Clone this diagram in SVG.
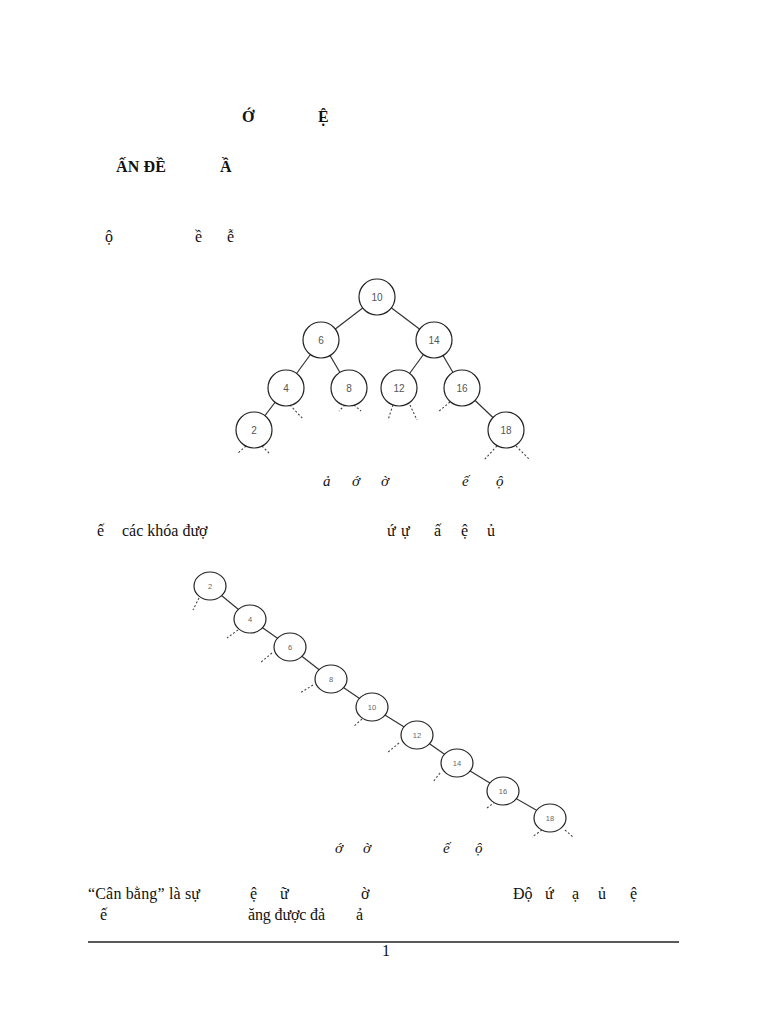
<svg xmlns="http://www.w3.org/2000/svg" width="768" height="1024" viewBox="0 0 768 1024">
<style>
.t{font-family:"Liberation Serif","Times New Roman",serif;fill:#111;font-size:16px}
.b{font-weight:bold}
.i{font-style:italic;font-size:15px}
.e{stroke:#333;stroke-width:1.2;fill:none}
.d{stroke:#444;stroke-width:1.1;stroke-dasharray:2 2;fill:none}
.n{fill:#fff;stroke:#222;stroke-width:1.2}
.l{font-family:"Liberation Sans",Arial,sans-serif;font-size:10px;fill:#555;text-anchor:middle}
.l2{font-family:"Liberation Sans",Arial,sans-serif;font-size:7.5px;fill:#666;text-anchor:middle}
</style>
<rect width="768" height="1024" fill="#fff"/>
<text class="t b" x="242" y="122" font-size="21">Ớ</text>
<text class="t b" x="318" y="122" font-size="21">Ệ</text>
<text class="t b" x="116" y="172" font-size="14" textLength="50">ẤN ĐỀ</text>
<text class="t b" x="220" y="172" font-size="14">Ầ</text>
<text class="t" x="105" y="242">ộ</text>
<text class="t" x="195" y="242">ề</text>
<text class="t" x="227" y="242">ễ</text>
<g id="connectors1">
<line class="e" x1="377" y1="297" x2="321" y2="340"/>
<line class="e" x1="377" y1="297" x2="434" y2="340"/>
<line class="e" x1="321" y1="340" x2="286" y2="388"/>
<line class="e" x1="321" y1="340" x2="349" y2="388"/>
<line class="e" x1="434" y1="340" x2="399" y2="388"/>
<line class="e" x1="434" y1="340" x2="462" y2="388"/>
<line class="e" x1="286" y1="388" x2="254" y2="430"/>
<line class="e" x1="462" y1="388" x2="506" y2="430"/>
<line class="d" x1="290" y1="405" x2="303" y2="419"/>
<line class="d" x1="246" y1="446" x2="238" y2="453"/>
<line class="d" x1="262" y1="446" x2="269" y2="453"/>
<line class="d" x1="345" y1="405" x2="339" y2="411"/>
<line class="d" x1="354" y1="405" x2="361" y2="411"/>
<line class="d" x1="393" y1="405" x2="388" y2="420"/>
<line class="d" x1="410" y1="405" x2="417" y2="420"/>
<line class="d" x1="450" y1="402" x2="438" y2="412"/>
<line class="d" x1="497" y1="446" x2="484" y2="460"/>
<line class="d" x1="516" y1="446" x2="530" y2="460"/>
</g>
<g id="n10"><circle class="n" cx="377" cy="297" r="18"/><text class="l" x="377" y="301">10</text></g>
<g id="n6"><circle class="n" cx="321" cy="340" r="18"/><text class="l" x="321" y="344">6</text></g>
<g id="n14"><circle class="n" cx="434" cy="340" r="18"/><text class="l" x="434" y="344">14</text></g>
<g id="n4"><circle class="n" cx="286" cy="388" r="18"/><text class="l" x="286" y="392">4</text></g>
<g id="n8"><circle class="n" cx="349" cy="388" r="18"/><text class="l" x="349" y="392">8</text></g>
<g id="n12"><circle class="n" cx="399" cy="388" r="18"/><text class="l" x="399" y="392">12</text></g>
<g id="n16"><circle class="n" cx="462" cy="388" r="18"/><text class="l" x="462" y="392">16</text></g>
<g id="n2"><circle class="n" cx="254" cy="430" r="18"/><text class="l" x="254" y="434">2</text></g>
<g id="n18"><circle class="n" cx="506" cy="430" r="18"/><text class="l" x="506" y="434">18</text></g>
<text class="t i" x="323" y="486">ả</text>
<text class="t i" x="352" y="486">ớ</text>
<text class="t i" x="381" y="486">ờ</text>
<text class="t i" x="462" y="486">ế</text>
<text class="t i" x="496" y="486">ộ</text>
<text class="t" x="97" y="536">ế</text>
<text class="t" x="122" y="536">các khóa đượ</text>
<text class="t" x="387" y="536">ứ</text>
<text class="t" x="401" y="536">ự</text>
<text class="t" x="434" y="536">ấ</text>
<text class="t" x="461" y="536">ệ</text>
<text class="t" x="487" y="536">ủ</text>
<g id="connectors2">
<line class="e" x1="210" y1="586" x2="250" y2="619"/>
<line class="e" x1="250" y1="619" x2="290" y2="647"/>
<line class="e" x1="290" y1="647" x2="331" y2="679"/>
<line class="e" x1="331" y1="679" x2="372" y2="707"/>
<line class="e" x1="372" y1="707" x2="417" y2="735"/>
<line class="e" x1="417" y1="735" x2="457" y2="763"/>
<line class="e" x1="457" y1="763" x2="503" y2="791"/>
<line class="e" x1="503" y1="791" x2="550" y2="818"/>
<line class="d" x1="199" y1="598" x2="193" y2="610"/>
<line class="d" x1="238" y1="630" x2="227" y2="638"/>
<line class="d" x1="272" y1="653" x2="260" y2="663"/>
<line class="d" x1="313" y1="685" x2="300" y2="693"/>
<line class="d" x1="362" y1="719" x2="353" y2="727"/>
<line class="d" x1="399" y1="743" x2="387" y2="753"/>
<line class="d" x1="440" y1="773" x2="433" y2="782"/>
<line class="d" x1="495" y1="802" x2="487" y2="808"/>
<line class="d" x1="542" y1="830" x2="532" y2="837"/>
<line class="d" x1="565" y1="830" x2="573" y2="837"/>
</g>
<g id="m2"><ellipse class="n" cx="210" cy="586" rx="16" ry="14"/><text class="l2" x="210" y="589">2</text></g>
<g id="m4"><ellipse class="n" cx="250" cy="619" rx="16" ry="14"/><text class="l2" x="250" y="622">4</text></g>
<g id="m6"><ellipse class="n" cx="290" cy="647" rx="16" ry="14"/><text class="l2" x="290" y="650">6</text></g>
<g id="m8"><ellipse class="n" cx="331" cy="679" rx="16" ry="14"/><text class="l2" x="331" y="682">8</text></g>
<g id="m10"><ellipse class="n" cx="372" cy="707" rx="16" ry="14"/><text class="l2" x="372" y="710">10</text></g>
<g id="m12"><ellipse class="n" cx="417" cy="735" rx="16" ry="14"/><text class="l2" x="417" y="738">12</text></g>
<g id="m14"><ellipse class="n" cx="457" cy="763" rx="16" ry="14"/><text class="l2" x="457" y="766">14</text></g>
<g id="m16"><ellipse class="n" cx="503" cy="791" rx="16" ry="14"/><text class="l2" x="503" y="794">16</text></g>
<g id="m18"><ellipse class="n" cx="550" cy="818" rx="16" ry="14"/><text class="l2" x="550" y="821">18</text></g>
<text class="t i" x="335" y="853">ớ</text>
<text class="t i" x="363" y="853">ờ</text>
<text class="t i" x="443" y="853">ế</text>
<text class="t i" x="475" y="853">ộ</text>
<text class="t" x="88" y="899" textLength="112">“Cân bằng” là sự</text>
<text class="t" x="250" y="899">ệ</text>
<text class="t" x="280" y="899">ữ</text>
<text class="t" x="361" y="899">ờ</text>
<text class="t" x="513" y="899">Độ</text>
<text class="t" x="545" y="899">ứ</text>
<text class="t" x="572" y="899">ạ</text>
<text class="t" x="598" y="899">ủ</text>
<text class="t" x="630" y="899">ệ</text>
<text class="t" x="100" y="920">ế</text>
<text class="t" x="248" y="920" textLength="77">ăng được đả</text>
<text class="t" x="356" y="920">ả</text>
<line x1="88" y1="942" x2="679" y2="942" stroke="#222" stroke-width="1.3"/>
<text class="t" x="382" y="956" font-size="13">1</text>
</svg>
